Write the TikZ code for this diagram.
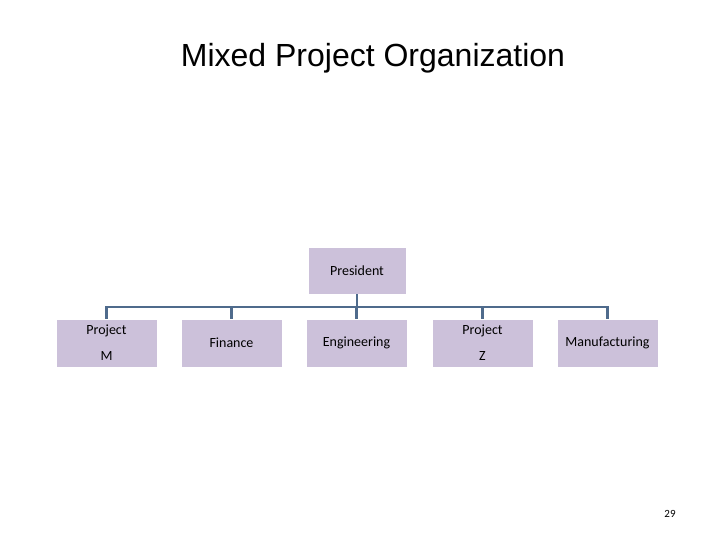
\documentclass[tikz,border=0pt]{standalone}
\usepackage{fontspec}
\setmainfont{Carlito}
\newfontfamily\titlefont{Liberation Sans}
\definecolor{boxfill}{RGB}{204,193,218}
\definecolor{linec}{RGB}{79,107,140}
\begin{document}
\begin{tikzpicture}[x=1pt,y=-1pt,
  orgbox/.style={draw=white,fill=boxfill,minimum width=101pt,minimum height=48pt,inner sep=0pt,font=\fontsize{14}{26}\selectfont,align=center},
  conn/.style={draw=linec,line width=2.5pt}]
\useasboundingbox (0,0) rectangle (720,540);
\node[font=\titlefont\fontsize{32}{36}\selectfont] (title) at (373,58) {Mixed Project Organization};
\node[orgbox,minimum width=98pt,minimum height=47pt] (pres) at (357,270.5) {President};
\node[orgbox] (m) at (106.5,343) {Project\\M};
\node[orgbox] (f) at (231.5,343) {Finance};
\node[orgbox] (e) at (356.5,343) {Engineering};
\node[orgbox] (z) at (482.5,343) {Project\\Z};
\node[orgbox] (mf) at (607.5,343) {Manufacturing};
\coordinate (bus) at (357,307);
\draw[conn] (pres.south) -- (bus);
\draw[conn] (m.north) |- (bus) -| (mf.north);
\foreach \n in {f,e,z} \draw[conn] (\n.north) -- (\n.north |- bus);
\node[font=\fontsize{11}{13}\selectfont] (pg) at (670,514) {29};
\end{tikzpicture}
\end{document}
